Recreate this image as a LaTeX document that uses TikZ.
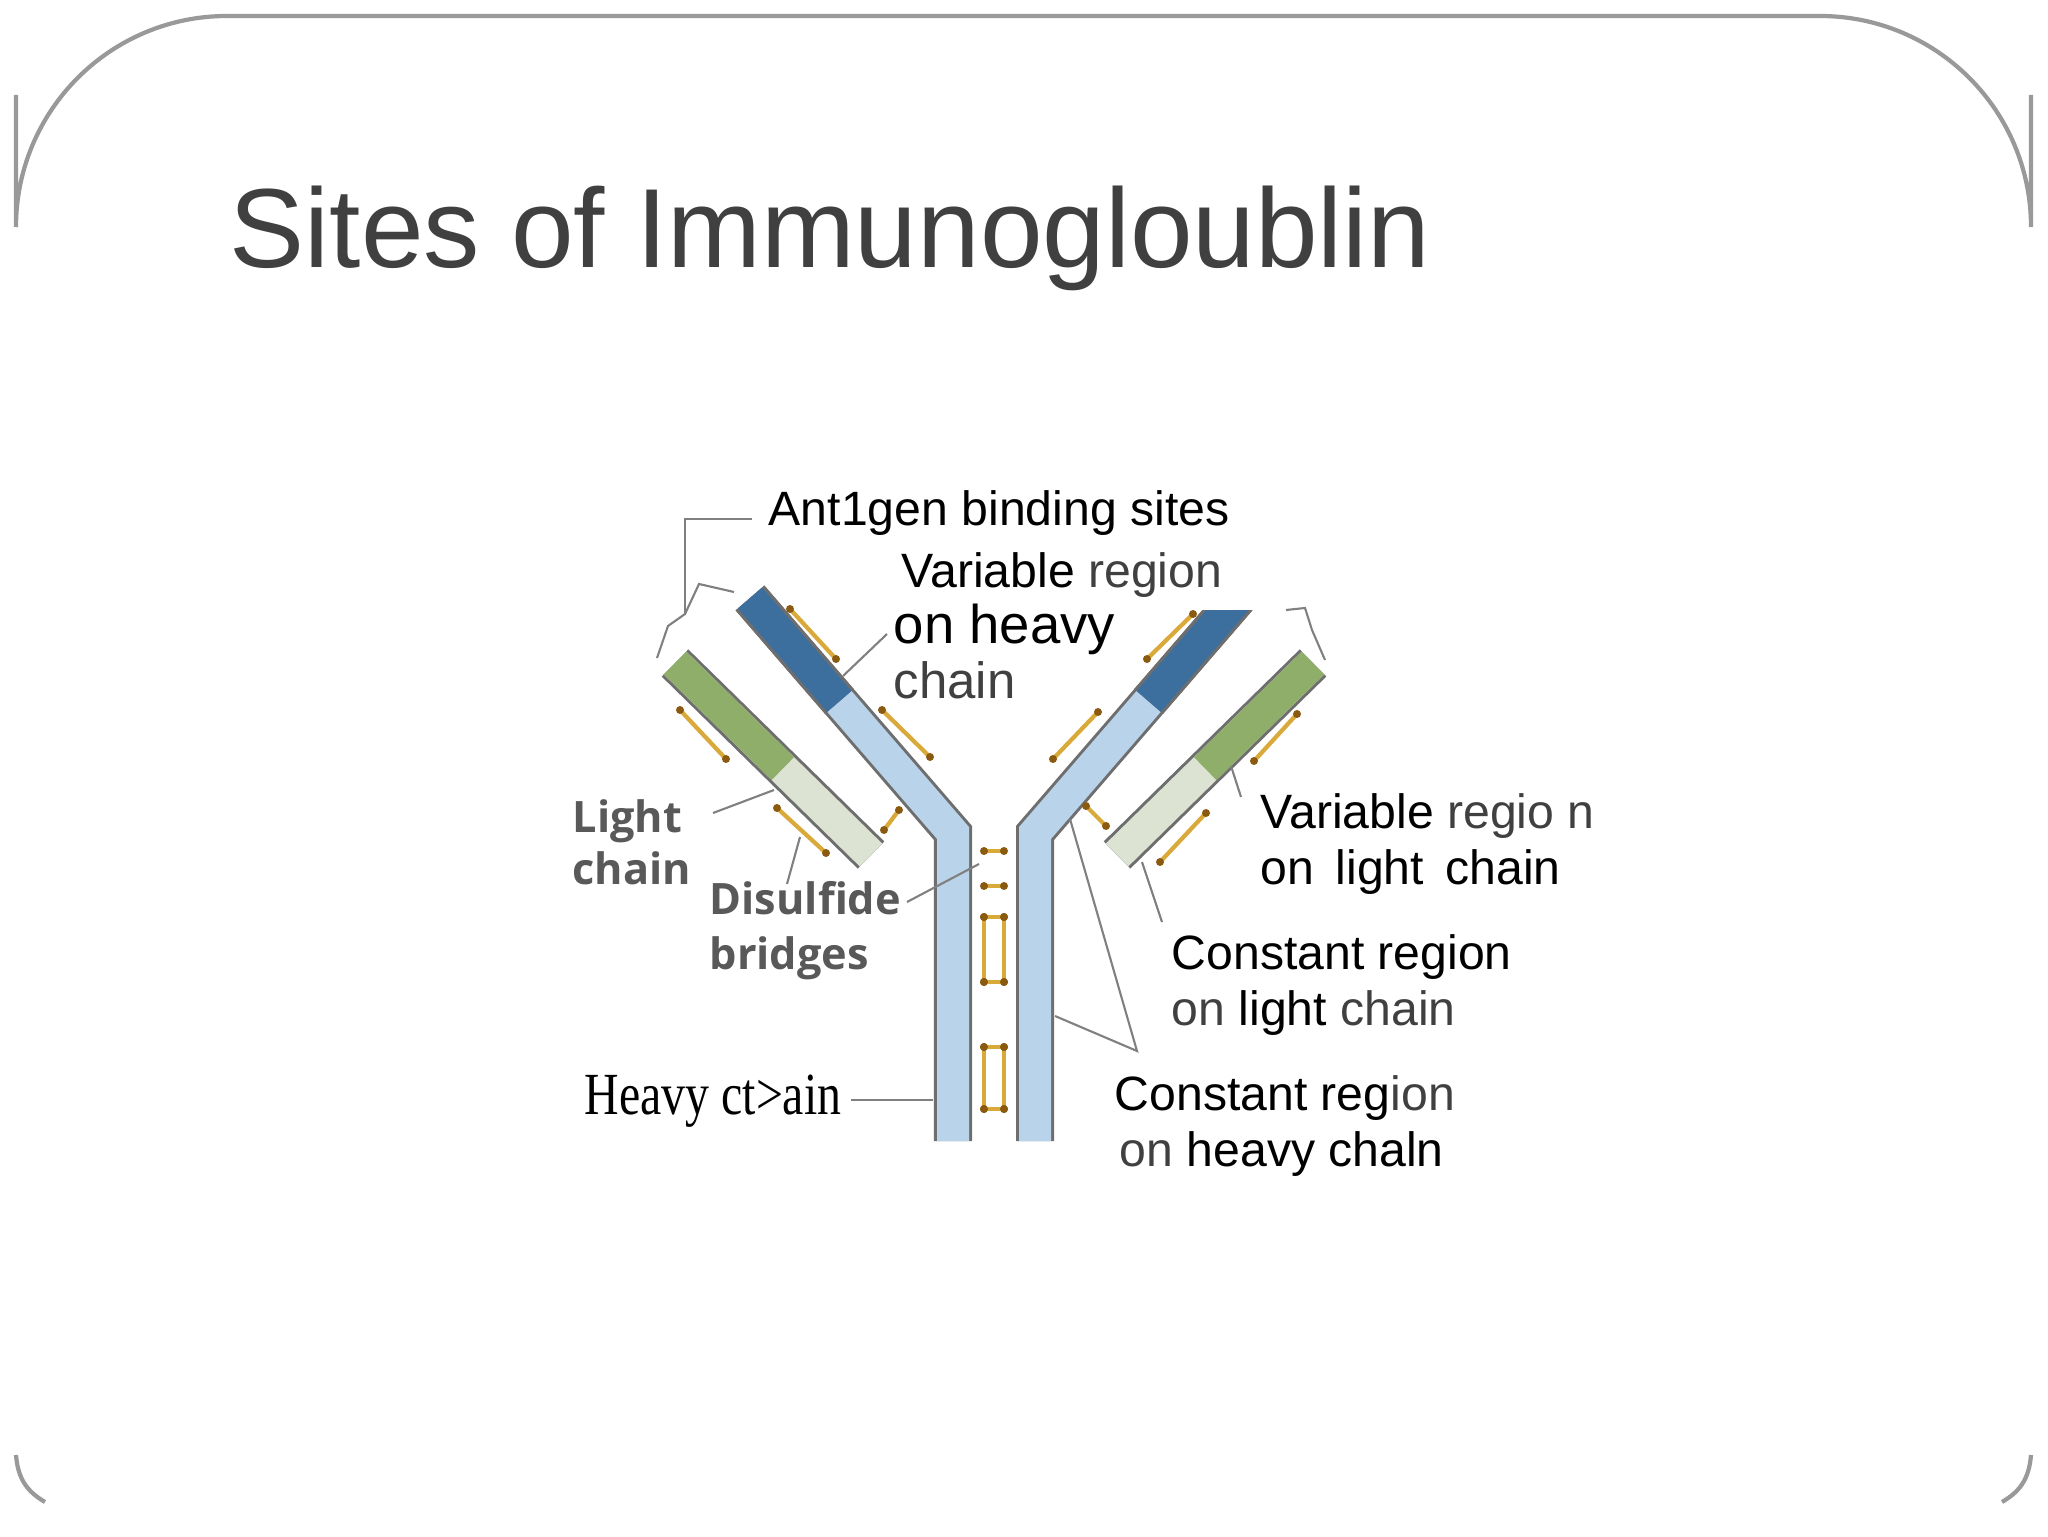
\documentclass[tikz,border=0pt]{standalone}
\usepackage{fontspec}
\setmainfont{Liberation Sans}
\newfontfamily\labfont{Open Sans}
\newfontfamily\serfont{Liberation Serif}
\usetikzlibrary{positioning,calc}
\definecolor{hlight}{HTML}{B9D3EA}
\definecolor{hdark}{HTML}{3D6F9E}
\definecolor{lgreen}{HTML}{8FAE6A}
\definecolor{lpale}{HTML}{DDE3D3}
\definecolor{edge}{HTML}{6E6E6E}
\definecolor{bridge}{HTML}{D9A93A}
\definecolor{dotc}{HTML}{8A5A10}
\definecolor{txtgray}{HTML}{404040}
\begin{document}
\begin{tikzpicture}[x=0.01cm,y=-0.01cm,
	outer/.style={draw=edge,line width=0.38cm,line join=miter},
	inner/.style={line width=0.32cm,line join=miter},
	lead/.style={draw=gray,line width=0.6pt},
	ss/.style={draw=bridge,line width=1.2pt},
	lab/.style={anchor=base west,inner sep=0pt,font=\fontsize{13.7}{14}\selectfont},
	glab/.style={anchor=base west,inner sep=0pt,text=black!65,font=\labfont\bfseries\fontsize{12.3}{13}\selectfont}]
	\useasboundingbox (0,0) rectangle (2048,1537);
	%frame
	\draw[gray!80,line width=1.2pt,rounded corners=60] (16,95) -- (16,16) -- (2031,16) -- (2031,95);
	\draw[gray!80,line width=1.2pt] (16,1455) .. controls (18,1480) and (28,1492) .. (45,1502);
	\draw[gray!80,line width=1.2pt] (2031,1455) .. controls (2029,1480) and (2019,1492) .. (2002,1502);
	\node(title)[anchor=base west,inner sep=0pt,text=txtgray,font=\fontsize{32}{32}\selectfont] at (229,268) {Sites of Immunogloublin};
	%chains
	\coordinate (htl) at (750,598); \coordinate (hbl) at (953,833); \coordinate (hsl) at (953,1141);
	\coordinate (htr) at (1238,598); \coordinate (hbr) at (1035,833); \coordinate (hsr) at (1035,1141);
	\coordinate (ltl) at (675,663); \coordinate (lbl) at (871,855);
	\coordinate (ltr) at (1313,663); \coordinate (lbr) at (1117,855);
	\foreach \a/\b/\c in {htl/hbl/hsl,htr/hbr/hsr}{
		\draw[outer] (\a) -- (\b) -- (\c);
		\draw[inner,hlight] (\a) -- (\b) -- (\c);
		\draw[outer] (\a) -- ($(\a)!0.44!(\b)$);
		\draw[inner,hdark] (\a) -- ($(\a)!0.44!(\b)$);}
	\foreach \a/\b in {ltl/lbl,ltr/lbr}{
		\draw[outer] (\a) -- (\b);
		\draw[inner,lpale] (\a) -- (\b);
		\draw[inner,lgreen] (\a) -- ($(\a)!0.55!(\b)$);}
	\fill[white] (1200,560) rectangle (1340,610);
	%disulfide bridges
	\foreach \x/\y/\u/\v in {680/710/726/759, 777/808/826/853, 882/710/930/757, 790/609/836/659,
		1053/759/1098/712, 1147/659/1193/614, 1254/761/1297/714, 1160/862/1206/813, 884/830/899/810, 1086/806/1106/826,
		984/917/984/982, 1004/917/1004/982, 984/1047/984/1109, 1004/1047/1004/1109}{
		\draw[ss] (\x,\y) -- (\u,\v);
		\fill[dotc] (\x,\y) circle (4) (\u,\v) circle (4);}
	\foreach \y in {851,886,917,982,1047,1109}{
		\draw[ss] (984,\y) -- (1004,\y);
		\fill[dotc] (984,\y) circle (4) (1004,\y) circle (4);}
	%labels
	\node(ag)[lab] at (768,526) {Ant1gen binding sites};
	\node(vh)[lab] at (901,588) {Variable \textcolor{txtgray}{region}};
	\node(vh2)[lab,font=\fontsize{15.5}{16}\selectfont] at (893,644) {on heavy};
	\node(vh3)[lab,font=\fontsize{14.5}{15}\selectfont,text=txtgray] at (893,699) {chain};
	\node(lc)[glab] at (572,833) {Light};
	\node(lc2)[glab] at (572,884) {chain};
	\node(ds)[glab] at (709,914) {Disulfide};
	\node(ds2)[glab] at (709,969) {bridges};
	\node(vl)[lab] at (1260,829) {Variable \textcolor{txtgray}{regio n}};
	\node(vl2)[lab] at (1260,885) {on \,light \,chain};
	\node(cl)[lab] at (1171,969) {Constant region};
	\node(cl2)[lab] at (1171,1025) {\textcolor{txtgray}{on} light \textcolor{txtgray}{chain}};
	\node(ch)[lab] at (1114,1110) {Constant reg\textcolor{txtgray}{ion}};
	\node(ch2)[lab] at (1119,1166) {\textcolor{txtgray}{on} heavy chaln};
	\node(hc)[anchor=base west,inner sep=0pt,font=\serfont\fontsize{17}{17}\selectfont] at (584,1114) {\scalebox{0.8}[1]{Heavy ct>ain}};
	%leaders
	\coordinate (br1) at (734,592); \coordinate (br2) at (657,658);
	\draw[lead] (br1) -- ++(-35,-8) -- (685,614) -- (668,626) -- (br2);
	\draw[lead] (685,614) -- (685,519) -- (752,519);
	\draw[lead] (1286,610) -- (1305,608) -- (1312,630) -- (1325,660);
	\coordinate (vhp) at (843,676); \draw[lead] (887,634) -- (vhp);
	\coordinate (lcp) at (774,790); \draw[lead] (713,813) -- (lcp);
	\coordinate (dsp) at (979,864); \draw[lead] (907,902) -- (dsp);
	\coordinate (dsq) at (800,837); \draw[lead] (787,884) -- (dsq);
	\coordinate (vlp) at (1231,766); \draw[lead] (1241,797) -- (vlp);
	\coordinate (clp) at (1142,862); \draw[lead] (1162,922) -- (clp);
	\coordinate (chp) at (1137,1051); \draw[lead] (1070,819) -- (chp) -- (1055,1016);
	\coordinate (hcp) at (933,1100); \draw[lead] (851,1100) -- (hcp);
\end{tikzpicture}
\end{document}
